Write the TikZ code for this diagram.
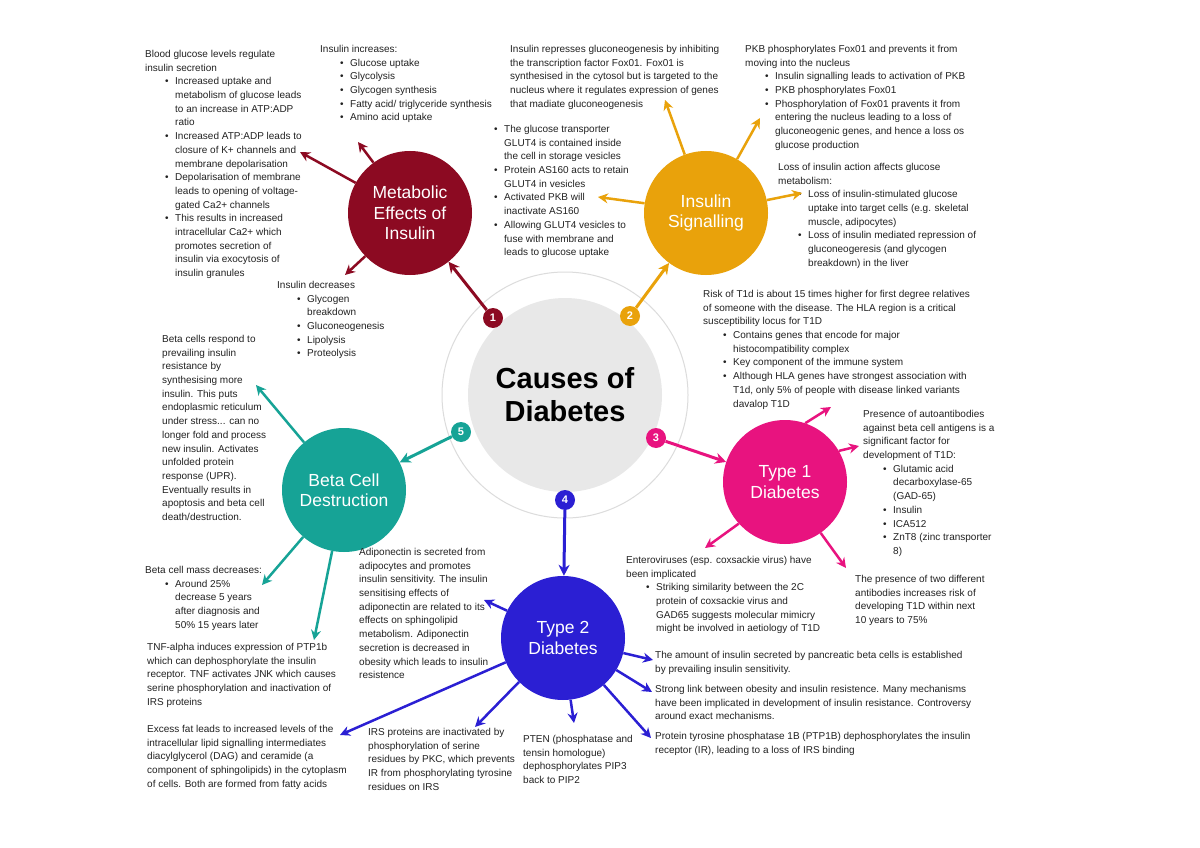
\documentclass[tikz,border=0pt]{standalone}
\usepackage{fontspec}
\setmainfont{Liberation Sans}
\usetikzlibrary{arrows.meta}
\definecolor{cred}{HTML}{8C0A22}
\definecolor{corg}{HTML}{E9A20B}
\definecolor{cmag}{HTML}{E8137F}
\definecolor{cblu}{HTML}{2B1FD3}
\definecolor{ctea}{HTML}{16A396}
\definecolor{ctxt}{HTML}{222222}
\definecolor{cgray}{HTML}{E8E8E8}
\definecolor{cring}{HTML}{DCDCDC}
\newcommand\bu{\hspace*{20pt}\makebox[10pt][l]{\textbullet}}
\newcommand\ct{\hspace*{30pt}}
\begin{document}
\begin{tikzpicture}[x=1pt,y=-1pt,
 txt/.style={anchor=north west, inner sep=0pt, align=left, font=\fontsize{10}{13.7}\selectfont, text=ctxt},
 big/.style={circle, minimum size=124pt, inner sep=0pt, text=white, align=center, font=\fontsize{17.5}{20.5}\selectfont},
 num/.style={circle, minimum size=20pt, inner sep=0pt, text=white, font=\bfseries\fontsize{11}{11}\selectfont},
 arr/.style={line width=2.5pt, -{Stealth[length=10pt,width=10pt]}},
 narr/.style={line width=3pt, -{Stealth[length=11pt,width=11pt]}},
]
\useasboundingbox (0,0) rectangle (1200,848);
\fill[white] (0,0) rectangle (1200,848);

% centre
\draw[cring, line width=1pt] (565,395) circle (123);
\node[circle, fill=cgray, minimum size=194pt, inner sep=0pt, align=center,
  font=\bfseries\fontsize{29}{33}\selectfont] (ctr) at (565,395) {Causes of\\Diabetes};

% main circles
\node[big, fill=cred] (met) at (410,213) {Metabolic\\Effects of\\Insulin};
\node[big, fill=corg] (sig) at (706,213) {Insulin\\Signalling};
\node[big, fill=cmag] (t1) at (785,482) {Type 1\\Diabetes};
\node[big, fill=cblu] (t2) at (563,638) {Type 2\\Diabetes};
\node[big, fill=ctea] (bc) at (344,490) {Beta Cell\\Destruction};

% number circles
\node[num, fill=cred] (n1) at (493,318) {1};
\node[num, fill=corg] (n2) at (630,316) {2};
\node[num, fill=cmag] (n3) at (656,438) {3};
\node[num, fill=cblu] (n4) at (565,500) {4};
\node[num, fill=ctea] (n5) at (461,432) {5};

\draw[narr, cred] (n1) -- (met);
\draw[narr, corg] (n2) -- (sig);
\draw[narr, cmag] (n3) -- (t1);
\draw[narr, cblu] (n4) -- (t2);
\draw[narr, ctea] (n5) -- (bc);

% texts
\node[txt] (b1) at (145,50) {Blood glucose levels regulate\\
insulin secretion\\
\bu Increased uptake and\\
\ct metabolism of glucose leads\\
\ct to an increase in ATP:ADP\\
\ct ratio\\
\bu Increased ATP:ADP leads to\\
\ct closure of K+ channels and\\
\ct membrane depolarisation\\
\bu Depolarisation of membrane\\
\ct leads to opening of voltage-\\
\ct gated Ca2+ channels\\
\bu This results in increased\\
\ct intracellular Ca2+ which\\
\ct promotes secretion of\\
\ct insulin via exocytosis of\\
\ct insulin granules};

\node[txt] (b2) at (320,45) {Insulin increases:\\
\bu Glucose uptake\\
\bu Glycolysis\\
\bu Glycogen synthesis\\
\bu Fatty acid/ triglyceride synthesis\\
\bu Amino acid uptake};

\node[txt] (b3) at (510,45) {Insulin represses gluconeogenesis by inhibiting\\
the transcription factor Fox01. Fox01 is\\
synthesised in the cytosol but is targeted to the\\
nucleus where it regulates expression of genes\\
that madiate gluconeogenesis};

\node[txt] (b4) at (745,45) {PKB phosphorylates Fox01 and prevents it from\\
moving into the nucleus\\
\bu Insulin signalling leads to activation of PKB\\
\bu PKB phosphorylates Fox01\\
\bu Phosphorylation of Fox01 pravents it from\\
\ct entering the nucleus leading to a loss of\\
\ct gluconeogenic genes, and hence a loss os\\
\ct glucose production};

\node[txt] (b5) at (474,125) {\bu The glucose transporter\\
\ct GLUT4 is contained inside\\
\ct the cell in storage vesicles\\
\bu Protein AS160 acts to retain\\
\ct GLUT4 in vesicles\\
\bu Activated PKB will\\
\ct inactivate AS160\\
\bu Allowing GLUT4 vesicles to\\
\ct fuse with membrane and\\
\ct leads to glucose uptake};

\node[txt] (b6) at (778,163) {Loss of insulin action affects glucose\\
metabolism:\\
\bu Loss of insulin-stimulated glucose\\
\ct uptake into target cells (e.g. skeletal\\
\ct muscle, adipocytes)\\
\bu Loss of insulin mediated repression of\\
\ct gluconeogeresis (and glycogen\\
\ct breakdown) in the liver};

\node[txt] (b7) at (277,281) {Insulin decreases\\
\bu Glycogen\\
\ct breakdown\\
\bu Gluconeogenesis\\
\bu Lipolysis\\
\bu Proteolysis};

\node[txt] (b8) at (703,290) {Risk of T1d is about 15 times higher for first degree relatives\\
of someone with the disease. The HLA region is a critical\\
susceptibility locus for T1D\\
\bu Contains genes that encode for major\\
\ct histocompatibility complex\\
\bu Key component of the immune system\\
\bu Although HLA genes have strongest association with\\
\ct T1d, only 5\% of people with disease linked variants\\
\ct davalop T1D};

\node[txt] (b9) at (162,335) {Beta cells respond to\\
prevailing insulin\\
resistance by\\
synthesising more\\
insulin. This puts\\
endoplasmic reticulum\\
under stress... can no\\
longer fold and process\\
new insulin. Activates\\
unfolded protein\\
response (UPR).\\
Eventually results in\\
apoptosis and beta cell\\
death/destruction.};

\node[txt] (b10) at (863,410) {Presence of autoantibodies\\
against beta cell antigens is a\\
significant factor for\\
development of T1D:\\
\bu Glutamic acid\\
\ct decarboxylase-65\\
\ct (GAD-65)\\
\bu Insulin\\
\bu ICA512\\
\bu ZnT8 (zinc transporter\\
\ct 8)};

\node[txt] (b11) at (626,556) {Enteroviruses (esp. coxsackie virus) have\\
been implicated\\
\bu Striking similarity between the 2C\\
\ct protein of coxsackie virus and\\
\ct GAD65 suggests molecular mimicry\\
\ct might be involved in aetiology of T1D};

\node[txt] (b12) at (855,575) {The presence of two different\\
antibodies increases risk of\\
developing T1D within next\\
10 years to 75\%};

\node[txt] (b13) at (359,548) {Adiponectin is secreted from\\
adipocytes and promotes\\
insulin sensitivity. The insulin\\
sensitising effects of\\
adiponectin are related to its\\
effects on sphingolipid\\
metabolism. Adiponectin\\
secretion is decreased in\\
obesity which leads to insulin\\
resistence};

\node[txt] (b14) at (145,566) {Beta cell mass decreases:\\
\bu Around 25\%\\
\ct decrease 5 years\\
\ct after diagnosis and\\
\ct 50\% 15 years later};

\node[txt] (b15) at (147,643) {TNF-alpha induces expression of PTP1b\\
which can dephosphorylate the insulin\\
receptor. TNF activates JNK which causes\\
serine phosphorylation and inactivation of\\
IRS proteins};

\node[txt] (b16) at (147,725) {Excess fat leads to increased levels of the\\
intracellular lipid signalling intermediates\\
diacylglycerol (DAG) and ceramide (a\\
component of sphingolipids) in the cytoplasm\\
of cells. Both are formed from fatty acids};

\node[txt] (b17) at (368,728) {IRS proteins are inactivated by\\
phosphorylation of serine\\
residues by PKC, which prevents\\
IR from phosphorylating tyrosine\\
residues on IRS};

\node[txt] (b18) at (523,735) {PTEN (phosphatase and\\
tensin homologue)\\
dephosphorylates PIP3\\
back to PIP2};

\node[txt] (b19) at (655,651) {The amount of insulin secreted by pancreatic beta cells is established\\
by prevailing insulin sensitivity.};

\node[txt] (b20) at (655,685) {Strong link between obesity and insulin resistence. Many mechanisms\\
have been implicated in development of insulin resistance. Controversy\\
around exact mechanisms.};

\node[txt] (b21) at (655,732) {Protein tyrosine phosphatase 1B (PTP1B) dephosphorylates the insulin\\
receptor (IR), leading to a loss of IRS binding};

% arrow tips
\coordinate (m1) at (300,152);
\coordinate (m2) at (358,142);
\coordinate (m3) at (345,275);
\coordinate (s1) at (665,100);
\coordinate (s2) at (760,118);
\coordinate (s3) at (598,197);
\coordinate (s4) at (802,193);
\coordinate (p1) at (831,407);
\coordinate (p2) at (859,446);
\coordinate (p3) at (705,548);
\coordinate (p4) at (846,568);
\coordinate (q1) at (484,600);
\coordinate (q2) at (340,735);
\coordinate (q3) at (475,727);
\coordinate (q4) at (574,723);
\coordinate (q5) at (653,660);
\coordinate (q6) at (652,692);
\coordinate (q7) at (651,738);
\coordinate (r1) at (256,385);
\coordinate (r2) at (262,585);
\coordinate (r3) at (314,640);

\draw[arr, cred] (met.151) -- (m1);
\draw[arr, cred] (met.126) -- (m2);
\draw[arr, cred] (met.224) -- (m3);
\draw[arr, corg] (sig.110) -- (s1);
\draw[arr, corg] (sig.60) -- (s2);
\draw[arr, corg] (sig.171) -- (s3);
\draw[arr, corg] (sig.12) -- (s4);
\draw[arr, cmag] (t1.71) -- (p1);
\draw[arr, cmag] (t1.30) -- (p2);
\draw[arr, cmag] (t1.222) -- (p3);
\draw[arr, cmag] (t1.305) -- (p4);
\draw[arr, cblu] (t2.154) -- (q1);
\draw[arr, cblu] (t2.203) -- (q2);
\draw[arr, cblu] (t2.225) -- (q3);
\draw[arr, cblu] (t2.277) -- (q4);
\draw[arr, cblu] (t2.346) -- (q5);
\draw[arr, cblu] (t2.329) -- (q6);
\draw[arr, cblu] (t2.311) -- (q7);
\draw[arr, ctea] (bc.130) -- (r1);
\draw[arr, ctea] (bc.229) -- (r2);
\draw[arr, ctea] (bc.259) -- (r3);
\end{tikzpicture}
\end{document}
